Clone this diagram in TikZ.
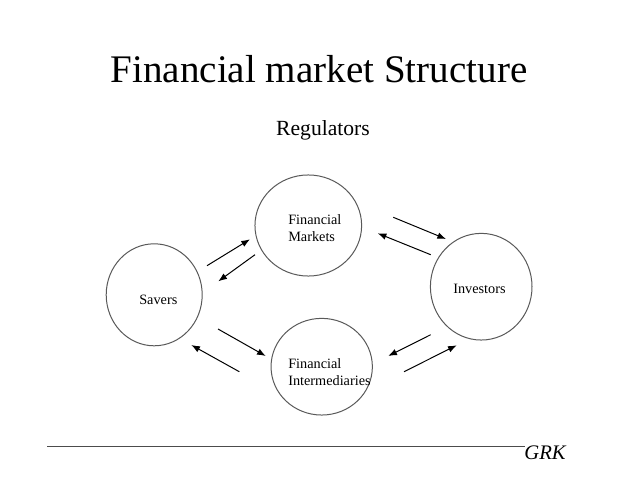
\documentclass[tikz,border=0pt]{standalone}
\usepackage{fontspec}
\setmainfont{Liberation Serif}
\usetikzlibrary{shapes.geometric,arrows.meta}
\tikzset{
  party/.style={draw=black!65,line width=0.75pt,ellipse,inner sep=0pt},
  flow/.style={draw=black,line width=0.75pt,-{Latex[length=6.5pt,width=5pt]}},
  lbl/.style={anchor=west,inner sep=0pt,font=\fontsize{10.7pt}{13pt}\selectfont}
}
\begin{document}
\begin{tikzpicture}[x=0.75pt,y=0.75pt,yscale=-1,xscale=1]
\useasboundingbox (0,0) rectangle (638,478);

%Circles
\node [party,minimum width=72pt,minimum height=76.5pt] (savers) at (154.2,294.8) {};
\node [party,minimum width=80pt,minimum height=75.8pt] (markets) at (308.3,225.5) {};
\node [party,minimum width=76pt,minimum height=72.5pt] (intermediaries) at (321.7,366.7) {};
\node [party,minimum width=76.2pt,minimum height=80pt] (investors) at (481.2,286.7) {};

%Arrow ends
\coordinate (sm1) at (207,265.7);
\coordinate (sm2) at (250,239.3);
\coordinate (ms1) at (255,254.7);
\coordinate (ms2) at (218.3,281.3);
\coordinate (si1) at (218,329);
\coordinate (si2) at (265.7,356);
\coordinate (is1) at (239.3,371.7);
\coordinate (is2) at (191.3,345);
\coordinate (mv1) at (393.3,217.3);
\coordinate (mv2) at (446,239);
\coordinate (vm1) at (430.7,254.7);
\coordinate (vm2) at (377.7,233.3);
\coordinate (vi1) at (430.7,334.7);
\coordinate (vi2) at (388.3,356);
\coordinate (iv1) at (404,371.7);
\coordinate (iv2) at (456.7,345.3);

%Straight Lines
\draw [flow] (sm1) -- (sm2);
\draw [flow] (ms1) -- (ms2);
\draw [flow] (si1) -- (si2);
\draw [flow] (is1) -- (is2);
\draw [flow] (mv1) -- (mv2);
\draw [flow] (vm1) -- (vm2);
\draw [flow] (vi1) -- (vi2);
\draw [flow] (iv1) -- (iv2);

%Bottom rule
\coordinate (ruleleft) at (47,446);
\coordinate (ruleright) at (525,446);
\draw [draw=black!70,line width=0.75pt] (ruleleft) -- (ruleright);

% Text Node
\node [inner sep=0pt,font=\fontsize{29.3pt}{36pt}\selectfont] (title) at (319,69) {Financial market Structure};
% Text Node
\node [inner sep=0pt,font=\fontsize{16.2pt}{18pt}\selectfont] (regulators) at (323,130) {Regulators};
% Text Node
\node [lbl] (savertext) at (139,300) {Savers};
% Text Node
\node [lbl] (markettext1) at (288,220) {Financial};
% Text Node
\node [lbl] (markettext2) at (288,236.5) {Markets};
% Text Node
\node [lbl] (intertext1) at (288,364) {Financial};
% Text Node
\node [lbl] (intertext2) at (288,381) {Intermediaries};
% Text Node
\node [lbl] (investortext) at (453,289) {Investors};
% Text Node
\node [inner sep=0pt,font=\fontsize{15.5pt}{18pt}\selectfont\itshape] (grk) at (545,453) {GRK};
\end{tikzpicture}
\end{document}
